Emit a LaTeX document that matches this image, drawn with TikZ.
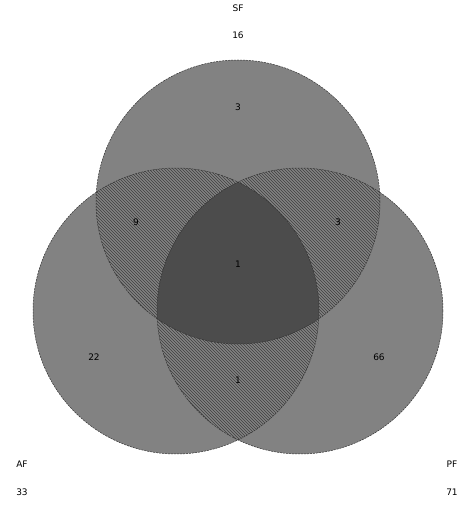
\documentclass[tikz,border=0pt]{standalone}
\usepackage{fontspec}
\setmainfont{DejaVu Sans}
\usetikzlibrary{patterns}
\begin{document}
\begin{tikzpicture}[x=1pt,y=1pt,
  circ/.style={draw=black!80,dashed,line width=0.5pt,dash pattern=on 2pt off 1pt},
  lab/.style={font=\fontsize{9}{10}\selectfont}]
\useasboundingbox (0,0) rectangle (474,515);
\def\ct{(238,313) circle (142)}
\def\cl{(176,204) circle (143)}
\def\cr{(300,204) circle (143)}
\fill[gray!85!black!85] \ct; \fill[gray!85!black!85] \cl; \fill[gray!85!black!85] \cr;
\begin{scope}\clip \ct; \fill[pattern=north west lines,pattern color=black!75] \cl;\end{scope}
\begin{scope}\clip \ct; \fill[pattern=north west lines,pattern color=black!75] \cr;\end{scope}
\begin{scope}\clip \cl; \fill[pattern=north west lines,pattern color=black!75] \cr;\end{scope}
\begin{scope}\clip \ct; \clip \cl; \fill[black!70] \cr;\end{scope}
\draw[circ] \ct; \draw[circ] \cl; \draw[circ] \cr;
\node[lab] (sf) at (238,507) {SF};
\node[lab] (sfn) at (238,480) {16};
\node[lab] (af) at (22,51) {AF};
\node[lab] (afn) at (22,23) {33};
\node[lab] (pf) at (452,51) {PF};
\node[lab] (pfn) at (452,23) {71};
\node[lab] (a) at (238,408) {3};
\node[lab] (b) at (136,293) {9};
\node[lab] (c) at (338,293) {3};
\node[lab] (d) at (238,251) {1};
\node[lab] (e) at (94,158) {22};
\node[lab] (f) at (379,158) {66};
\node[lab] (g) at (238,135) {1};
\end{tikzpicture}
\end{document}
